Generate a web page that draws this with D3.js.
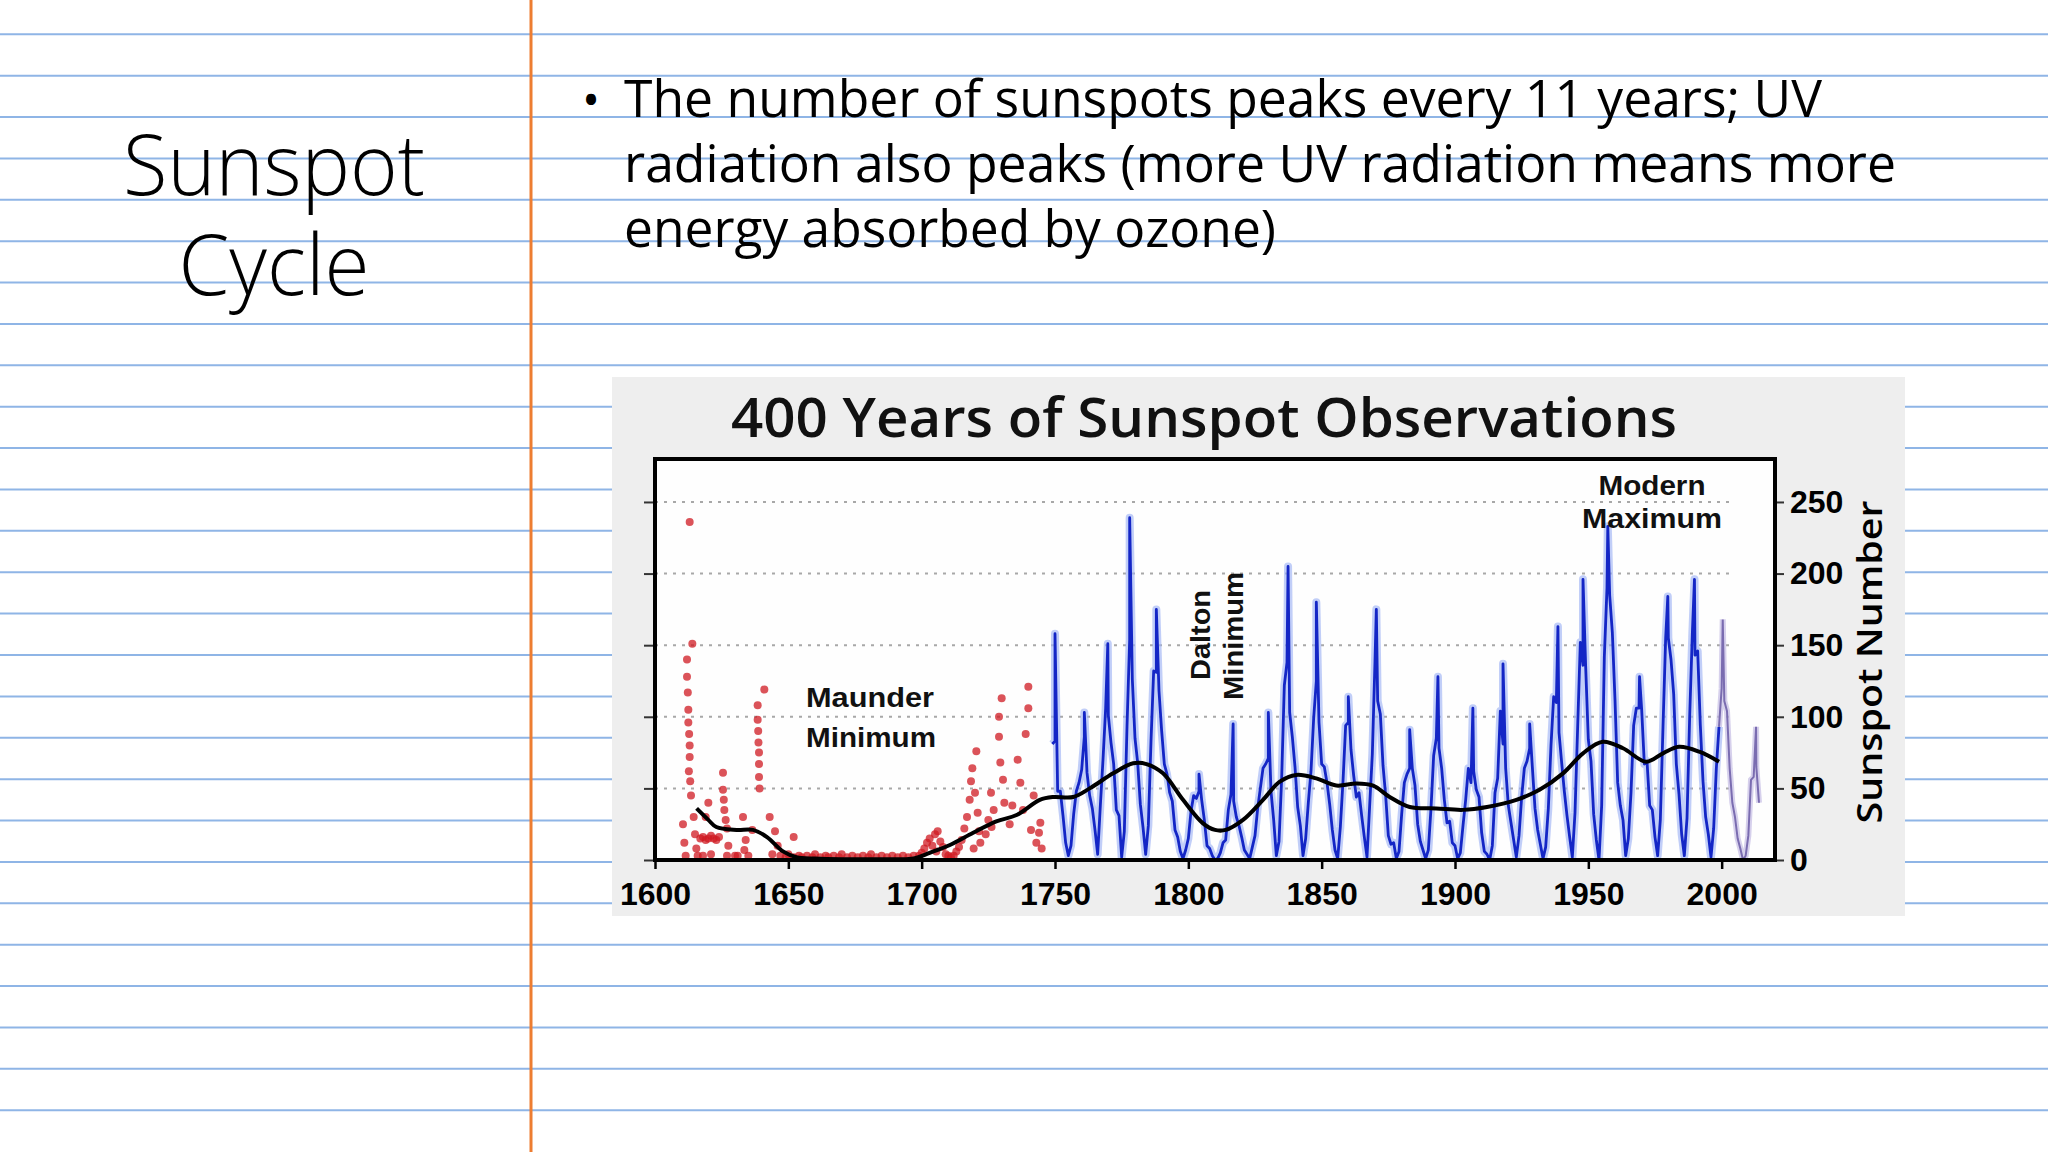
<!DOCTYPE html>
<html>
<head>
<meta charset="utf-8">
<script src="https://cdn.jsdelivr.net/npm/d3@7"></script>
<style>
  body { margin: 0; background: #fff; }
  svg { display: block; }
</style>
</head>
<body>
<div id="slide"></div>
<script>
// ---- values ----
const xTicks = [1600, 1650, 1700, 1750, 1800, 1850, 1900, 1950, 2000];
const yTicks = [0, 50, 100, 150, 200, 250];

// yearly sunspot numbers, blue part (1749..1999)
const blueStartYear = 1749;
const blueYearly = [
  81, 83, 48, 48, 31, 12, 3, 10, 32, 48, 54, 63, 86, 61, 45, 36, 21, 4, 38, 70,
  106, 101, 82, 67, 35, 31, 2, 20, 93, 154, 126, 85, 68, 39, 23, 4, 24, 83, 132, 131,
  118, 90, 67, 60, 47, 41, 21, 16, 6, 1, 7, 15, 34, 45, 43, 48, 42, 28, 10, 8,
  3, 0, 1, 5, 12, 14, 35, 46, 41, 30, 24, 16, 7, 4, 1, 9, 17, 36, 50, 64,
  67, 71, 48, 28, 3, 13, 57, 122, 138, 103, 86, 65, 37, 24, 3, 15, 40, 62, 99, 125,
  96, 67, 65, 54, 39, 21, 7, 1, 23, 55, 94, 96, 77, 59, 44, 47, 31, 16, 2, 38,
  74, 139, 111, 102, 66, 45, 17, 11, 12, 1, 6, 32, 54, 60, 64, 64, 52, 25, 13, 7,
  1, 7, 36, 73, 85, 78, 64, 42, 26, 27, 12, 10, 1, 5, 24, 42, 64, 54, 62, 49,
  44, 19, 6, 4, 0, 10, 47, 57, 104, 81, 64, 38, 26, 14, 2, 17, 44, 64, 69, 78,
  65, 36, 21, 11, 1, 9, 36, 80, 114, 110, 89, 68, 48, 31, 16, 2, 33, 93, 152, 136,
  135, 84, 69, 32, 14, 0, 38, 142, 190, 185, 159, 112, 54, 38, 28, 3, 15, 47, 94, 106,
  106, 105, 67, 69, 38, 35, 16, 3, 28, 93, 155, 155, 140, 116, 67, 46, 18, 3, 29, 100,
  158, 143, 146, 94, 55, 30, 18, 2, 22, 64, 93
];
// monthly peaks standing above the yearly values
const spikeYears  = [1750.0, 1761.0, 1769.8, 1778.0, 1788.0, 1804.0, 1816.8, 1830.0, 1837.4, 1848.0, 1860.0, 1870.5,
                     1883.0, 1893.6, 1906.7, 1918.0, 1928.0, 1938.6, 1948.0, 1957.3, 1969.2, 1979.8, 1989.8];
const spikeValues = [158, 103, 151, 239, 175, 60, 95, 103, 205, 180, 114, 175,
                     91, 128, 106, 137, 95, 163, 196, 233, 128, 184, 196];

// most recent part, drawn in a paler violet (1999..2014)
const recentStartYear = 1999;
const recentYearly = [93, 120, 111, 104, 64, 40, 30, 15, 8, 0, 3, 17, 56, 58, 65, 40];
const recentSpikeYears = [2000.4, 2012.9];
const recentSpikeValues = [168, 93];

// group sunspot numbers (red dots)
const redYears = [
  1610.5, 1611, 1611.5, 1612, 1612, 1612.3, 1612.5, 1612.5, 1612.8, 1613, 1613, 1612.7, 1613.2, 1613, 1614, 1613.5, 1614.5, 1615, 1615.5, 1616,
  1617, 1618, 1619, 1620, 1621, 1622, 1623, 1624, 1620, 1619, 1618, 1621,
  1625.5, 1625.5, 1625.8, 1626, 1626.5, 1627, 1627.5, 1627,
  1630, 1631, 1633, 1633.5, 1634, 1636.5, 1635,
  1638.5, 1638.5, 1638.7, 1638.8, 1639, 1639, 1639, 1639.2, 1641,
  1643, 1645, 1646, 1644, 1652,
  1647, 1649, 1650, 1652, 1654, 1655, 1657, 1659, 1660, 1662, 1664, 1665, 1667, 1669, 1670, 1672, 1674, 1676, 1678, 1680,
  1681, 1683, 1685, 1687, 1689, 1691, 1693, 1695, 1697, 1699,
  1700, 1701, 1702, 1703, 1704, 1705, 1705.5, 1706, 1707, 1708, 1709, 1710, 1711, 1712, 1713, 1714, 1715,
  1716, 1717, 1718, 1718.5, 1719, 1720.5, 1720, 1721, 1721.5, 1722, 1719.5,
  1724, 1725, 1726, 1726.2, 1727, 1729, 1729, 1729.5, 1730, 1730.5, 1731,
  1733, 1734, 1736, 1737, 1738, 1740, 1740, 1739, 1741, 1742, 1743, 1744, 1744.5, 1745
];
const redValues = [
  25, 12, 3, 140, 128, 117, 105, 96, 88, 80, 72, 62, 55, 236, 151, 45, 30, 18, 8, 3,
  15, 16, 14, 15, 17, 15, 14, 16, 40, 30, 3, 4,
  61, 49, 42, 35, 28, 22, 10, 3,
  3, 3, 30, 7, 14, 21, 3,
  108, 98, 90, 82, 75, 67, 58, 50, 119,
  30, 20, 10, 4, 16,
  3, 2, 4, 2, 3, 2, 3, 2, 4, 2, 3, 2, 3, 2, 4, 2, 3, 2, 3, 2,
  4, 2, 3, 2, 3, 2, 3, 2, 3, 3,
  5, 8, 12, 15, 10, 18, 6, 20, 13, 9, 4, 3, 2, 3, 6, 9, 14,
  22, 30, 42, 55, 64, 76, 47, 33, 20, 12, 8,
  18, 28, 47, 23, 35, 86, 100, 68, 113, 56, 40,
  25, 38, 70, 54, 35, 121, 106, 88, 21, 45, 12, 19, 26, 8
];

// smoothed average (black curve)
const trendYears = [1615.6, 1620, 1623, 1630.6, 1636.7, 1642, 1648, 1653, 1660, 1670, 1680, 1690, 1697, 1703, 1710.6,
  1719.3, 1728, 1735.6, 1744.3, 1749.3, 1756.8, 1763, 1771.8, 1779.3, 1784.3, 1790.5, 1798, 1805.5, 1810, 1814,
  1820.5, 1828, 1834.3, 1840.5, 1848, 1855.5, 1863, 1869.3, 1875.5, 1883, 1893, 1903, 1912, 1923, 1931.7,
  1940.5, 1948, 1955.4, 1963, 1971.7, 1978, 1984, 1991.6, 1999];
const trendValues = [36, 28, 23, 21, 21, 16, 6, 2, 1, 0.5, 0.5, 0.5, 1, 5, 10.5,
  19, 27, 31.4, 42, 44, 44, 50, 60.5, 67.5, 67, 60.5, 42, 25.6, 21, 21,
  28, 42, 54.7, 59.4, 57, 52, 53.5, 52, 44, 37, 36, 35, 37, 42, 49,
  60.5, 74.5, 82.6, 78, 68.6, 74.5, 79, 75.6, 68.6];

// ---- slide ----
const W = 2048, H = 1152;
const svg = d3.select("#slide").append("svg").attr("width", W).attr("height", H);

// ruled paper lines
svg.append("g").selectAll("line")
  .data(d3.range(27))
  .join("line")
  .attr("x1", 0).attr("x2", W)
  .attr("y1", k => 34.3 + 41.38 * k).attr("y2", k => 34.3 + 41.38 * k)
  .attr("stroke", "#8fb5e6").attr("stroke-width", 2);

// margin line
svg.append("line")
  .attr("x1", 531).attr("x2", 531).attr("y1", 0).attr("y2", H)
  .attr("stroke", "#ed7d31").attr("stroke-width", 3);

const slideFont = "'Open Sans', 'Noto Sans', sans-serif";
svg.append("text").attr("x", 274).attr("y", 195)
  .attr("text-anchor", "middle").attr("textLength", 302).attr("lengthAdjust", "spacingAndGlyphs")
  .style("font-family", slideFont).style("font-weight", 350).style("font-size", "84px")
  .text("Sunspot");
svg.append("text").attr("x", 274).attr("y", 295)
  .attr("text-anchor", "middle").attr("textLength", 191).attr("lengthAdjust", "spacingAndGlyphs")
  .style("font-family", slideFont).style("font-weight", 350).style("font-size", "84px")
  .text("Cycle");

svg.append("text").attr("x", 582).attr("y", 117)
  .style("font-family", slideFont).style("font-size", "48px").text("•");

const bullet = [
  { text: "The number of sunspots peaks every 11 years; UV", y: 117, w: 1198 },
  { text: "radiation also peaks (more UV radiation means more", y: 182, w: 1272 },
  { text: "energy absorbed by ozone)", y: 247, w: 652 }
];
svg.append("g").selectAll("text")
  .data(bullet)
  .join("text")
  .attr("x", 624).attr("y", d => d.y)
  .attr("textLength", d => d.w).attr("lengthAdjust", "spacingAndGlyphs")
  .style("font-family", slideFont).style("font-size", "51px").style("fill", "#000")
  .text(d => d.text);

// ---- chart picture ----
const chart = svg.append("g");
chart.append("rect").attr("x", 612).attr("y", 377).attr("width", 1293).attr("height", 539).attr("fill", "#eeeeee");

const xScale = d3.scaleLinear().domain([1600, 2020]).range([655, 1775]);
const yScale = d3.scaleLinear().domain([0, 280]).range([860, 459]);

chart.append("rect")
  .attr("x", xScale(1600)).attr("y", yScale(280))
  .attr("width", xScale(2020) - xScale(1600)).attr("height", yScale(0) - yScale(280))
  .attr("fill", "#fefefe");

chart.append("text").attr("x", 1204).attr("y", 437)
  .attr("text-anchor", "middle").attr("textLength", 946).attr("lengthAdjust", "spacingAndGlyphs")
  .style("font-family", slideFont).style("font-weight", 600).style("font-size", "55px").style("fill", "#111")
  .text("400 Years of Sunspot Observations");

// dotted grid
chart.append("g").selectAll("line")
  .data(yTicks.filter(v => v > 0))
  .join("line")
  .attr("x1", xScale(1600)).attr("x2", xScale(2005))
  .attr("y1", d => yScale(d)).attr("y2", d => yScale(d))
  .attr("stroke", "#a8a8a8").attr("stroke-width", 2).attr("stroke-dasharray", "3,6");

chart.append("clipPath").attr("id", "plotclip").append("rect")
  .attr("x", xScale(1600)).attr("y", yScale(280))
  .attr("width", xScale(2020) - xScale(1600)).attr("height", yScale(0) - yScale(280));
const plot = chart.append("g").attr("clip-path", "url(#plotclip)");

// red dots
plot.append("g").selectAll("circle")
  .data(redYears.map((yr, i) => ({ year: yr, value: redValues[i] })))
  .join("circle")
  .attr("cx", d => xScale(d.year)).attr("cy", d => yScale(d.value))
  .attr("r", 4)
  .attr("fill", "#cf1a22").attr("fill-opacity", 0.75);

const line = d3.line().x(d => xScale(d.year)).y(d => yScale(d.value));

function merge(start, yearly, sYears, sValues) {
  return yearly.map((v, i) => ({ year: start + i, value: v }))
    .concat(sYears.map((yr, i) => ({ year: yr, value: sValues[i] })))
    .sort((a, b) => a.year - b.year);
}
const bluePts = merge(blueStartYear, blueYearly, spikeYears, spikeValues);
const recentPts = merge(recentStartYear, recentYearly, recentSpikeYears, recentSpikeValues);

plot.append("path").datum(bluePts).attr("d", line)
  .attr("fill", "none").attr("stroke", "#9fb4f4").attr("stroke-width", 8).attr("stroke-opacity", 0.65)
  .attr("stroke-linejoin", "round");
plot.append("path").datum(bluePts).attr("d", line)
  .attr("fill", "none").attr("stroke", "#1426c6").attr("stroke-width", 2.8)
  .attr("stroke-linejoin", "round");

plot.append("path").datum(recentPts).attr("d", line)
  .attr("fill", "none").attr("stroke", "#c4bce4").attr("stroke-width", 6).attr("stroke-opacity", 0.7);
plot.append("path").datum(recentPts).attr("d", line)
  .attr("fill", "none").attr("stroke", "#7a6cb0").attr("stroke-width", 2);

// smoothed trend
plot.append("path")
  .datum(trendYears.map((yr, i) => ({ year: yr, value: trendValues[i] })))
  .attr("d", line.curve(d3.curveCatmullRom))
  .attr("fill", "none").attr("stroke", "#000").attr("stroke-width", 4);

// axes
const tickFont = "'Liberation Sans', Arial, sans-serif";
const xAxis = d3.axisBottom(xScale).tickValues(xTicks).tickSize(9).tickPadding(13).tickFormat(d3.format("d"));
const gx = chart.append("g").attr("transform", "translate(0," + yScale(0) + ")").call(xAxis);
gx.select(".domain").remove();
gx.selectAll("line").attr("stroke", "#000").attr("stroke-width", 2.5);
gx.selectAll("text").style("font-family", tickFont).style("font-weight", "bold").style("font-size", "32px").style("fill", "#000");

const yAxisRight = d3.axisRight(yScale).tickValues(yTicks).tickSize(9).tickPadding(6);
const gy = chart.append("g").attr("transform", "translate(" + xScale(2020) + ",0)").call(yAxisRight);
gy.select(".domain").remove();
gy.selectAll("line").attr("stroke", "#333").attr("stroke-width", 2);
gy.selectAll("text").style("font-family", tickFont).style("font-weight", "bold").style("font-size", "32px").style("fill", "#000");

const yAxisLeft = d3.axisLeft(yScale).tickValues(yTicks).tickSize(11).tickFormat("");
const gl = chart.append("g").attr("transform", "translate(" + xScale(1600) + ",0)").call(yAxisLeft);
gl.select(".domain").remove();
gl.selectAll("line").attr("stroke", "#333").attr("stroke-width", 2);

// frame
chart.append("rect")
  .attr("x", xScale(1600)).attr("y", yScale(280))
  .attr("width", xScale(2020) - xScale(1600)).attr("height", yScale(0) - yScale(280))
  .attr("fill", "none").attr("stroke", "#000").attr("stroke-width", 4);

chart.append("text")
  .attr("transform", "translate(1882,662) rotate(-90)")
  .attr("text-anchor", "middle").attr("textLength", 323).attr("lengthAdjust", "spacingAndGlyphs")
  .style("font-family", slideFont).style("font-weight", 600).style("font-size", "35px").style("fill", "#000")
  .text("Sunspot Number");

// annotations
const notes = [
  { text: "Maunder", x: 870, y: 707, w: 128, r: false },
  { text: "Minimum", x: 871, y: 747, w: 130, r: false },
  { text: "Modern", x: 1652, y: 495, w: 107, r: false },
  { text: "Maximum", x: 1652, y: 528, w: 140, r: false },
  { text: "Dalton", x: 1210, y: 635, w: 90, r: true },
  { text: "Minimum", x: 1243, y: 636, w: 128, r: true }
];
chart.append("g").selectAll("text")
  .data(notes)
  .join("text")
  .attr("transform", d => "translate(" + d.x + "," + d.y + ")" + (d.r ? " rotate(-90)" : ""))
  .attr("text-anchor", "middle").attr("textLength", d => d.w).attr("lengthAdjust", "spacingAndGlyphs")
  .style("font-family", tickFont).style("font-weight", "bold").style("font-size", "28px").style("fill", "#111")
  .text(d => d.text);
</script>
</body>
</html>
